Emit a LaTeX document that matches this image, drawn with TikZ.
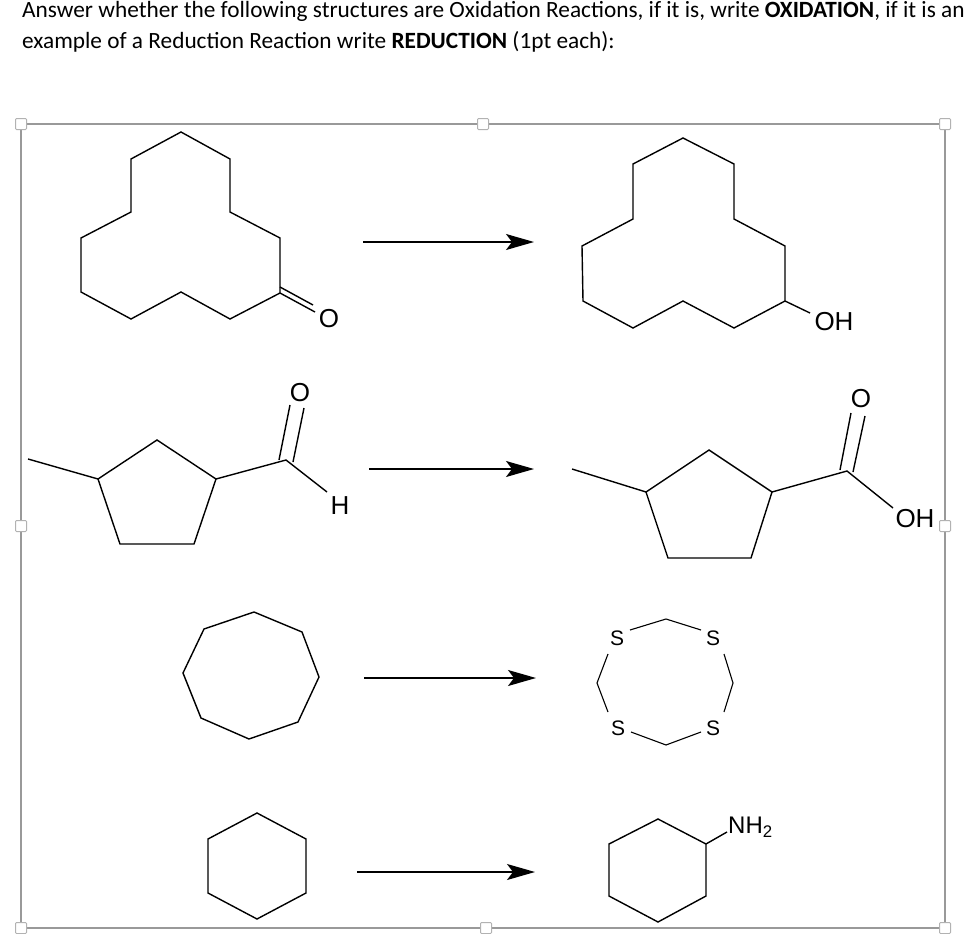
\documentclass[tikz,border=0pt]{standalone}
\usepackage{fontspec}
\setmainfont{Carlito}
\newfontfamily\arial{Liberation Sans}
\usetikzlibrary{arrows.meta}
\begin{document}
\begin{tikzpicture}[x=1pt,y=-1pt,
  bond/.style={line width=1.4pt,line join=miter},
  rxn/.style={line width=1.5pt,-{Stealth[length=28pt,width=16pt,inset=6pt]}},
  frame/.style={draw=gray!80,line width=1.5pt},
  handle/.style={draw=gray!60,fill=white,line width=1pt,minimum size=11pt,inner sep=0pt,rectangle,rounded corners=1pt},
  atom/.style={font=\arial\fontsize{26}{26}\selectfont,inner sep=0pt},
  satom/.style={font=\arial\fontsize{21}{21}\selectfont,inner sep=0pt}]
\useasboundingbox (0,0) rectangle (980,934);
% header text
\node[anchor=north west,align=left,inner sep=0pt,font=\fontsize{23.3}{31.5}\selectfont] (hdr) at (22,1)
 {Answer whether the following structures are Oxidation Reactions, if it is, write \textbf{OXIDATION}, if it is an\\
  example of a Reduction Reaction write \textbf{REDUCTION} (1pt each):};
% frame
\draw[frame] (21,124) rectangle (945,928);
\foreach \n/\p in {h1/{(21,124)},h2/{(483,124)},h3/{(945,124)},h4/{(21,526)},h5/{(945,526)},h6/{(21,928)},h7/{(486,928)},h8/{(945,928)}}
  \node[handle] (\n) at \p {};
% ---- row 1 left: cyclododecanone
\foreach \n/\x/\y in {a1/181/132,a2/230/159,a3/230/212,a4/280/238,a5/280/293,a6/230/319,a7/181/292,a8/131/319,a9/81/292,a10/81/238,a11/131/212,a12/131/159}
  \coordinate (\n) at (\x,\y);
\draw[bond] (a1)--(a2)--(a3)--(a4)--(a5)--(a6)--(a7)--(a8)--(a9)--(a10)--(a11)--(a12)--cycle;
\node[atom] (o1) at (329,319) {O};
\coordinate (o1a) at (315,312); \coordinate (o1b) at (313,305); \coordinate (a5b) at (280,287);
\draw[bond] (a5)--(o1a); \draw[bond] (a5b)--(o1b);
% arrow 1
\coordinate (r1s) at (363,242); \coordinate (r1e) at (534,242);
\draw[rxn] (r1s)--(r1e);
% row 1 right: cyclododecanol
\foreach \n/\x/\y in {b1/683/138,b2/734/164,b3/734/219,b4/785/246,b5/785/301,b6/734/328,b7/683/301,b8/633/328,b9/583/301,b10/582/246,b11/633/219,b12/633/164}
  \coordinate (\n) at (\x,\y);
\draw[bond] (b1)--(b2)--(b3)--(b4)--(b5)--(b6)--(b7)--(b8)--(b9)--(b10)--(b11)--(b12)--cycle;
\node[atom] (oh1) at (834,322) {OH};
\coordinate (oh1a) at (810,313);
\draw[bond] (b5)--(oh1a);
% ---- row 2 left: aldehyde
\foreach \n/\x/\y in {m1/28/459,c1/98/479,c2/157/440,c3/216/479,c4/194/544,c5/120/544,k1/286/460,k1a/279/460,k1b/293/462,ko1/290/405,ko2/304/408,kh/327/492}
  \coordinate (\n) at (\x,\y);
\draw[bond] (c1)--(c2)--(c3)--(c4)--(c5)--cycle;
\draw[bond] (m1)--(c1);
\draw[bond] (c3)--(k1)--(kh);
\draw[bond] (k1a)--(ko1); \draw[bond] (k1b)--(ko2);
\node[atom] (o2) at (300,393) {O};
\node[atom] (h2a) at (340,506) {H};
% arrow 2
\coordinate (r2s) at (369,469); \coordinate (r2e) at (534,469);
\draw[rxn] (r2s)--(r2e);
% row 2 right: acid
\foreach \n/\x/\y in {n1/572/469,d1/646/492,d2/709/450,d3/772/492,d4/751/558,d5/668/558,q1/847/471,q1a/840/470,q1b/853/472,qo1/851/413,qo2/865/416,qh/893/508}
  \coordinate (\n) at (\x,\y);
\draw[bond] (d1)--(d2)--(d3)--(d4)--(d5)--cycle;
\draw[bond] (n1)--(d1);
\draw[bond] (d3)--(q1)--(qh);
\draw[bond] (q1a)--(qo1); \draw[bond] (q1b)--(qo2);
\node[atom] (o3) at (861,399) {O};
\node[atom] (oh2) at (915,519) {OH};
% ---- row 3 left: cyclooctane
\foreach \n/\x/\y in {e1/254/612,e2/302/632,e3/319/677,e4/298/722,e5/249/739,e6/201/718,e7/183/673,e8/204/629}
  \coordinate (\n) at (\x,\y);
\draw[bond] (e1)--(e2)--(e3)--(e4)--(e5)--(e6)--(e7)--(e8)--cycle;
% arrow 3
\coordinate (r3s) at (364,678); \coordinate (r3e) at (536,678);
\draw[rxn] (r3s)--(r3e);
% row 3 right: tetrathiocane
\node[satom] (s1) at (617,638) {S};
\node[satom] (s2) at (713,638) {S};
\node[satom] (s3) at (618,728) {S};
\node[satom] (s4) at (713,728) {S};
\foreach \n/\x/\y in {t1/666/619,t2/733/683,t3/666/745,t4/597/683,s1a/630/630,s2a/701/630,s1b/608/654,s2b/724/654,s3a/608/712,s4a/724/712,s3b/631/732,s4b/701/732}
  \coordinate (\n) at (\x,\y);
\draw[line width=1.1pt] (s1a)--(t1)--(s2a);
\draw[line width=1.1pt] (s2b)--(t2)--(s4a);
\draw[line width=1.1pt] (s4b)--(t3)--(s3b);
\draw[line width=1.1pt] (s3a)--(t4)--(s1b);
% ---- row 4 left: cyclohexane
\foreach \n/\x/\y in {f1/257/813,f2/306/839,f3/306/893,f4/257/919,f5/208/893,f6/208/839}
  \coordinate (\n) at (\x,\y);
\draw[bond] (f1)--(f2)--(f3)--(f4)--(f5)--(f6)--cycle;
% arrow 4
\coordinate (r4s) at (357,872); \coordinate (r4e) at (535,872);
\draw[rxn] (r4s)--(r4e);
% row 4 right: cyclohexylamine
\foreach \n/\x/\y in {g1/658/819,g2/706/844,g3/706/896,g4/658/922,g5/609/896,g6/609/844,na/727/832}
  \coordinate (\n) at (\x,\y);
\draw[bond] (g1)--(g2)--(g3)--(g4)--(g5)--(g6)--cycle;
\draw[bond] (g2)--(na);
\node[anchor=west,inner sep=0pt,font=\arial\fontsize{24}{24}\selectfont] (nh2) at (728,827) {NH\textsubscript{2}};
\end{tikzpicture}
\end{document}
